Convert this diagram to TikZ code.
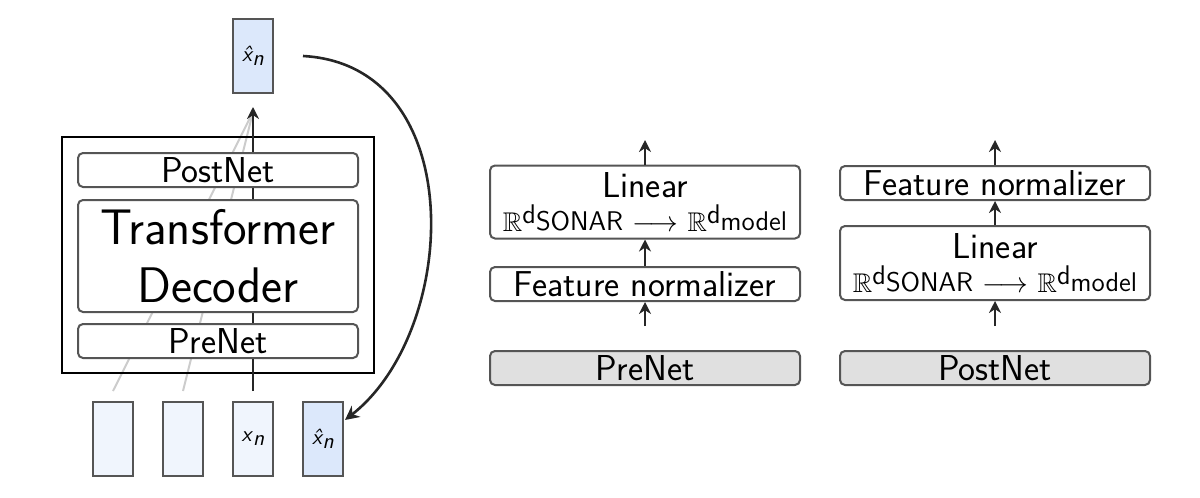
\documentclass[tikz,border=0pt]{standalone}
\usepackage{amssymb}
\usetikzlibrary{arrows.meta}
\renewcommand{\familydefault}{\sfdefault}
\definecolor{lb}{HTML}{DCE8FB}
\definecolor{vlb}{HTML}{F0F5FD}
\definecolor{gr}{HTML}{E0E0E0}
\definecolor{ln}{HTML}{555555}
\newcommand{\xh}{\textit{\^{x}}\raisebox{-2pt}{\textit{n}}}
\newcommand{\lin}{$\mathbb{R}$\raisebox{4pt}{d}\raisebox{0.5pt}{SONAR}\,\,$\longrightarrow$\,\,$\mathbb{R}$\raisebox{4pt}{d}\raisebox{0.5pt}{model}}
\begin{document}
\begin{tikzpicture}[x=0.5pt,y=-0.5pt,
  vec/.style={draw=ln,line width=1pt,inner sep=0pt,font=\fontsize{11}{13}\selectfont},
  rbox/.style={draw=ln,line width=1pt,rounded corners=2.5pt,inner sep=0pt},
  arr/.style={line width=1.3pt,draw=black!85,-{Stealth[length=6pt,width=6pt]}},
  fnt/.style={font=\fontsize{18}{20}\selectfont}]
\useasboundingbox (0,0) rectangle (1200,498);
\draw[gray!40,line width=1pt] (113,391) -- (253,112);
\draw[gray!40,line width=1pt] (183,391) -- (253,112);
\node[draw=black,line width=1pt,minimum width=156pt,minimum height=118pt] (outer) at (218,255) {};
\coordinate (s) at (253,391);
\coordinate (tip) at (253,107);
\draw[arr] (s) -- (tip);
\node[rbox,fill=white,minimum width=140pt,minimum height=17pt,fnt] (post) at (218,170) {PostNet};
\node[rbox,fill=white,minimum width=140pt,minimum height=56pt,align=center,font=\fontsize{25}{29}\selectfont] (dec) at (218,256) {Transformer\\Decoder};
\node[rbox,fill=white,minimum width=140pt,minimum height=17pt,fnt] (pre) at (218,341) {PreNet};
\node[vec,fill=lb,minimum width=20pt,minimum height=37pt] (top) at (253,56) {\xh};
\node[vec,fill=vlb,minimum width=20pt,minimum height=37pt] (b1) at (113,439) {};
\node[vec,fill=vlb,minimum width=20pt,minimum height=37pt] (b2) at (183,439) {};
\node[vec,fill=vlb,minimum width=20pt,minimum height=37pt] (b3) at (253,439) {\textit{x}\raisebox{-2pt}{\textit{n}}};
\node[vec,fill=lb,minimum width=20pt,minimum height=37pt] (b4) at (323,439) {\xh};
\coordinate (cs) at (303,56);
\coordinate (ce) at (345,420);
\draw[line width=1.3pt,black!85,-{Stealth[length=7pt,width=7pt]}] (cs) .. controls (470,65) and (460,330) .. (ce);
% right column 1
\node[rbox,fill=white,minimum width=155pt,minimum height=36.5pt,align=center,fnt] (lin1) at (645,202) {Linear\\[-3pt]{\fontsize{13.5}{16}\selectfont\lin}};
\node[rbox,fill=white,minimum width=155pt,minimum height=17pt,fnt] (fn1) at (645,284) {Feature normalizer};
\node[rbox,fill=gr,minimum width=155pt,minimum height=17pt,fnt] (pn1) at (645,368) {PreNet};
\coordinate (a1) at (645,326);
\coordinate (t1) at (645,140);
\draw[arr] (a1) -- (fn1);
\draw[arr] (fn1) -- (lin1);
\draw[arr] (lin1) -- (t1);
% right column 2
\node[rbox,fill=white,minimum width=155pt,minimum height=17pt,fnt] (fn2) at (995,183) {Feature normalizer};
\node[rbox,fill=white,minimum width=155pt,minimum height=37pt,align=center,fnt] (lin2) at (995,263) {Linear\\[-3pt]{\fontsize{13.5}{16}\selectfont\lin}};
\node[rbox,fill=gr,minimum width=155pt,minimum height=17pt,fnt] (pn2) at (995,368) {PostNet};
\coordinate (a2) at (995,326);
\coordinate (t2) at (995,140);
\draw[arr] (a2) -- (lin2);
\draw[arr] (lin2) -- (fn2);
\draw[arr] (fn2) -- (t2);
\end{tikzpicture}
\end{document}
